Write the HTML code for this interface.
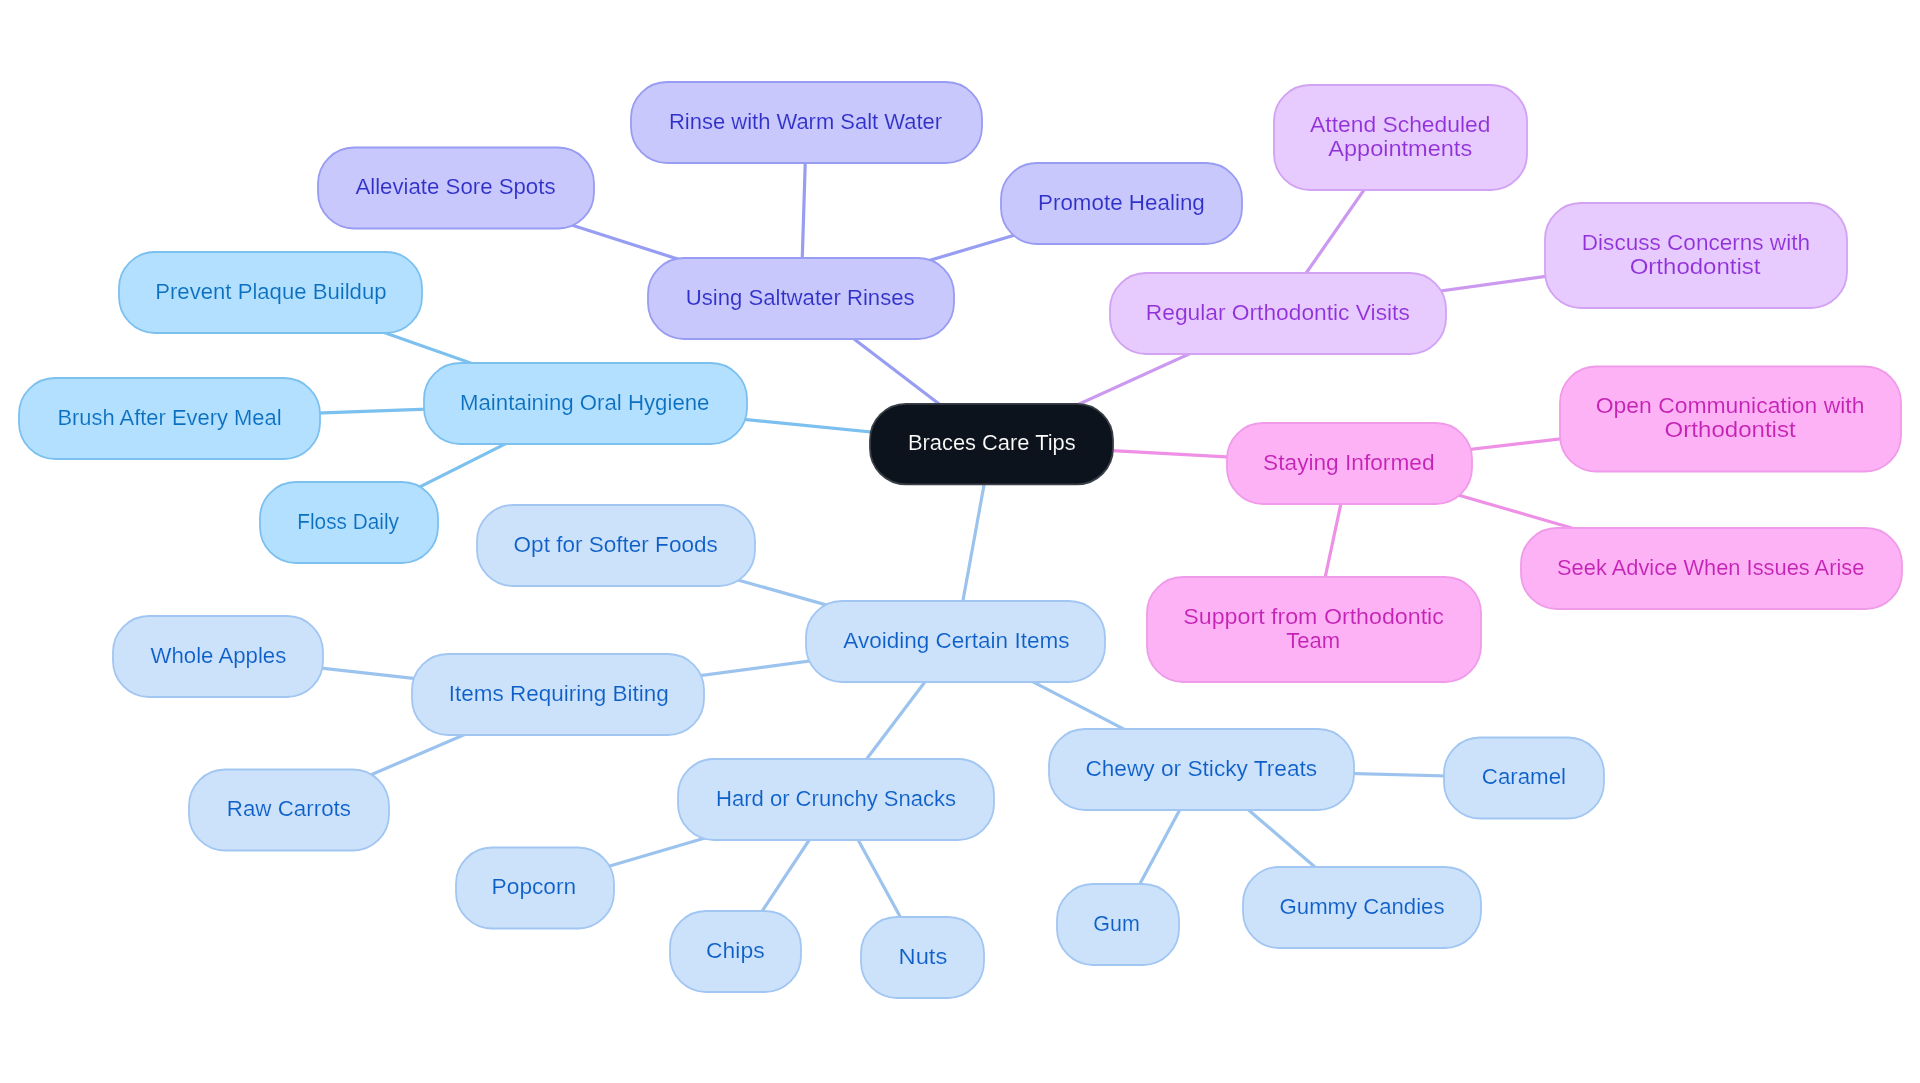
<!DOCTYPE html><html><head><meta charset="utf-8"><style>html,body{margin:0;padding:0;background:#fff;width:1920px;height:1083px;overflow:hidden}svg{display:block;will-change:transform}text{font-family:"Liberation Sans",sans-serif;font-size:22.50px}</style></head><body>
<svg width="1920" height="1083" viewBox="0 0 1920 1083">
<line x1="801.0" y1="298.5" x2="991.5" y2="444.0" stroke="#979DF2" stroke-width="3.2"/>
<line x1="806.5" y1="122.5" x2="801.0" y2="298.5" stroke="#979DF2" stroke-width="3.2"/>
<line x1="456.0" y1="188.0" x2="801.0" y2="298.5" stroke="#979DF2" stroke-width="3.2"/>
<line x1="1121.5" y1="203.5" x2="801.0" y2="298.5" stroke="#979DF2" stroke-width="3.2"/>
<line x1="585.5" y1="403.5" x2="991.5" y2="444.0" stroke="#7CC0F0" stroke-width="3.2"/>
<line x1="270.5" y1="292.5" x2="585.5" y2="403.5" stroke="#7CC0F0" stroke-width="3.2"/>
<line x1="169.5" y1="418.5" x2="585.5" y2="403.5" stroke="#7CC0F0" stroke-width="3.2"/>
<line x1="349.0" y1="522.5" x2="585.5" y2="403.5" stroke="#7CC0F0" stroke-width="3.2"/>
<line x1="1278.0" y1="313.5" x2="991.5" y2="444.0" stroke="#CC99F0" stroke-width="3.2"/>
<line x1="1400.5" y1="137.5" x2="1278.0" y2="313.5" stroke="#CC99F0" stroke-width="3.2"/>
<line x1="1696.0" y1="255.5" x2="1278.0" y2="313.5" stroke="#CC99F0" stroke-width="3.2"/>
<line x1="1349.5" y1="463.5" x2="991.5" y2="444.0" stroke="#EE90E6" stroke-width="3.2"/>
<line x1="1730.5" y1="419.0" x2="1349.5" y2="463.5" stroke="#EE90E6" stroke-width="3.2"/>
<line x1="1711.5" y1="568.5" x2="1349.5" y2="463.5" stroke="#EE90E6" stroke-width="3.2"/>
<line x1="1314.0" y1="629.5" x2="1349.5" y2="463.5" stroke="#EE90E6" stroke-width="3.2"/>
<line x1="955.5" y1="641.5" x2="991.5" y2="444.0" stroke="#9BC3EE" stroke-width="3.2"/>
<line x1="616.0" y1="545.5" x2="955.5" y2="641.5" stroke="#9BC3EE" stroke-width="3.2"/>
<line x1="558.0" y1="694.5" x2="955.5" y2="641.5" stroke="#9BC3EE" stroke-width="3.2"/>
<line x1="218.0" y1="656.5" x2="558.0" y2="694.5" stroke="#9BC3EE" stroke-width="3.2"/>
<line x1="289.0" y1="810.0" x2="558.0" y2="694.5" stroke="#9BC3EE" stroke-width="3.2"/>
<line x1="836.0" y1="799.5" x2="955.5" y2="641.5" stroke="#9BC3EE" stroke-width="3.2"/>
<line x1="535.0" y1="888.0" x2="836.0" y2="799.5" stroke="#9BC3EE" stroke-width="3.2"/>
<line x1="735.5" y1="951.5" x2="836.0" y2="799.5" stroke="#9BC3EE" stroke-width="3.2"/>
<line x1="922.5" y1="957.5" x2="836.0" y2="799.5" stroke="#9BC3EE" stroke-width="3.2"/>
<line x1="1201.5" y1="769.5" x2="955.5" y2="641.5" stroke="#9BC3EE" stroke-width="3.2"/>
<line x1="1524.0" y1="778.0" x2="1201.5" y2="769.5" stroke="#9BC3EE" stroke-width="3.2"/>
<line x1="1118.0" y1="924.5" x2="1201.5" y2="769.5" stroke="#9BC3EE" stroke-width="3.2"/>
<line x1="1362.0" y1="907.5" x2="1201.5" y2="769.5" stroke="#9BC3EE" stroke-width="3.2"/>
<rect x="870.0" y="403.8" width="243.0" height="80.5" rx="36.0" fill="#0D131C" stroke="#3A3F47" stroke-width="1.80"/>
<text x="908.00" y="450.00" fill="#FFFFFF" stroke="#0D131C" stroke-width="0.15" textLength="167.61" lengthAdjust="spacingAndGlyphs">Braces Care Tips</text>
<rect x="648.0" y="258.0" width="306.0" height="81.0" rx="36.0" fill="#C8C8FD" stroke="#989CF2" stroke-width="1.80"/>
<text x="685.70" y="304.50" fill="#3030C8" stroke="#C8C8FD" stroke-width="0.15" textLength="228.92" lengthAdjust="spacingAndGlyphs">Using Saltwater Rinses</text>
<rect x="631.0" y="82.0" width="351.0" height="81.0" rx="36.0" fill="#C8C8FD" stroke="#989CF2" stroke-width="1.80"/>
<text x="669.00" y="128.50" fill="#3030C8" stroke="#C8C8FD" stroke-width="0.15" textLength="273.08" lengthAdjust="spacingAndGlyphs">Rinse with Warm Salt Water</text>
<rect x="318.0" y="147.5" width="276.0" height="81.0" rx="36.0" fill="#C8C8FD" stroke="#989CF2" stroke-width="1.80"/>
<text x="355.40" y="194.00" fill="#3030C8" stroke="#C8C8FD" stroke-width="0.15" textLength="200.11" lengthAdjust="spacingAndGlyphs">Alleviate Sore Spots</text>
<rect x="1001.0" y="163.0" width="241.0" height="81.0" rx="36.0" fill="#C8C8FD" stroke="#989CF2" stroke-width="1.80"/>
<text x="1038.00" y="209.50" fill="#3030C8" stroke="#C8C8FD" stroke-width="0.15" textLength="166.81" lengthAdjust="spacingAndGlyphs">Promote Healing</text>
<rect x="424.0" y="363.0" width="323.0" height="81.0" rx="36.0" fill="#B3E0FE" stroke="#7CC0F0" stroke-width="1.80"/>
<text x="460.00" y="409.50" fill="#0B6FC0" stroke="#B3E0FE" stroke-width="0.15" textLength="249.48" lengthAdjust="spacingAndGlyphs">Maintaining Oral Hygiene</text>
<rect x="119.0" y="252.0" width="303.0" height="81.0" rx="36.0" fill="#B3E0FE" stroke="#7CC0F0" stroke-width="1.80"/>
<text x="155.20" y="298.50" fill="#0B6FC0" stroke="#B3E0FE" stroke-width="0.15" textLength="231.37" lengthAdjust="spacingAndGlyphs">Prevent Plaque Buildup</text>
<rect x="19.0" y="378.0" width="301.0" height="81.0" rx="36.0" fill="#B3E0FE" stroke="#7CC0F0" stroke-width="1.80"/>
<text x="57.40" y="424.50" fill="#0B6FC0" stroke="#B3E0FE" stroke-width="0.15" textLength="224.21" lengthAdjust="spacingAndGlyphs">Brush After Every Meal</text>
<rect x="260.0" y="482.0" width="178.0" height="81.0" rx="36.0" fill="#B3E0FE" stroke="#7CC0F0" stroke-width="1.80"/>
<text x="297.30" y="528.50" fill="#0B6FC0" stroke="#B3E0FE" stroke-width="0.15" textLength="101.61" lengthAdjust="spacingAndGlyphs">Floss Daily</text>
<rect x="1110.0" y="273.0" width="336.0" height="81.0" rx="36.0" fill="#E7CAFE" stroke="#D2A2F3" stroke-width="1.80"/>
<text x="1145.80" y="319.50" fill="#9030D8" stroke="#E7CAFE" stroke-width="0.15" textLength="263.98" lengthAdjust="spacingAndGlyphs">Regular Orthodontic Visits</text>
<rect x="1274.0" y="85.0" width="253.0" height="105.0" rx="36.0" fill="#E7CAFE" stroke="#D2A2F3" stroke-width="1.80"/>
<text x="1310.10" y="131.50" fill="#9030D8" stroke="#E7CAFE" stroke-width="0.15" textLength="180.34" lengthAdjust="spacingAndGlyphs">Attend Scheduled</text>
<text x="1328.30" y="155.50" fill="#9030D8" stroke="#E7CAFE" stroke-width="0.15" textLength="143.88" lengthAdjust="spacingAndGlyphs">Appointments</text>
<rect x="1545.0" y="203.0" width="302.0" height="105.0" rx="36.0" fill="#E7CAFE" stroke="#D2A2F3" stroke-width="1.80"/>
<text x="1581.80" y="249.50" fill="#9030D8" stroke="#E7CAFE" stroke-width="0.15" textLength="228.19" lengthAdjust="spacingAndGlyphs">Discuss Concerns with</text>
<text x="1629.70" y="273.50" fill="#9030D8" stroke="#E7CAFE" stroke-width="0.15" textLength="130.85" lengthAdjust="spacingAndGlyphs">Orthodontist</text>
<rect x="1227.0" y="423.0" width="245.0" height="81.0" rx="36.0" fill="#FDB2F5" stroke="#F09BE9" stroke-width="1.80"/>
<text x="1263.10" y="469.50" fill="#C422B4" stroke="#FDB2F5" stroke-width="0.15" textLength="171.41" lengthAdjust="spacingAndGlyphs">Staying Informed</text>
<rect x="1560.0" y="366.5" width="341.0" height="105.0" rx="36.0" fill="#FDB2F5" stroke="#F09BE9" stroke-width="1.80"/>
<text x="1595.80" y="413.00" fill="#C422B4" stroke="#FDB2F5" stroke-width="0.15" textLength="268.60" lengthAdjust="spacingAndGlyphs">Open Communication with</text>
<text x="1664.60" y="437.00" fill="#C422B4" stroke="#FDB2F5" stroke-width="0.15" textLength="131.05" lengthAdjust="spacingAndGlyphs">Orthodontist</text>
<rect x="1521.0" y="528.0" width="381.0" height="81.0" rx="36.0" fill="#FDB2F5" stroke="#F09BE9" stroke-width="1.80"/>
<text x="1557.00" y="574.50" fill="#C422B4" stroke="#FDB2F5" stroke-width="0.15" textLength="307.41" lengthAdjust="spacingAndGlyphs">Seek Advice When Issues Arise</text>
<rect x="1147.0" y="577.0" width="334.0" height="105.0" rx="36.0" fill="#FDB2F5" stroke="#F09BE9" stroke-width="1.80"/>
<text x="1183.30" y="623.50" fill="#C422B4" stroke="#FDB2F5" stroke-width="0.15" textLength="260.55" lengthAdjust="spacingAndGlyphs">Support from Orthodontic</text>
<text x="1286.20" y="647.50" fill="#C422B4" stroke="#FDB2F5" stroke-width="0.15" textLength="53.83" lengthAdjust="spacingAndGlyphs">Team</text>
<rect x="806.0" y="601.0" width="299.0" height="81.0" rx="36.0" fill="#CCE2FB" stroke="#A2C6F2" stroke-width="1.80"/>
<text x="843.30" y="647.50" fill="#0D5FC7" stroke="#CCE2FB" stroke-width="0.15" textLength="226.17" lengthAdjust="spacingAndGlyphs">Avoiding Certain Items</text>
<rect x="477.0" y="505.0" width="278.0" height="81.0" rx="36.0" fill="#CCE2FB" stroke="#A2C6F2" stroke-width="1.80"/>
<text x="513.60" y="551.50" fill="#0D5FC7" stroke="#CCE2FB" stroke-width="0.15" textLength="204.16" lengthAdjust="spacingAndGlyphs">Opt for Softer Foods</text>
<rect x="412.0" y="654.0" width="292.0" height="81.0" rx="36.0" fill="#CCE2FB" stroke="#A2C6F2" stroke-width="1.80"/>
<text x="448.80" y="700.50" fill="#0D5FC7" stroke="#CCE2FB" stroke-width="0.15" textLength="219.92" lengthAdjust="spacingAndGlyphs">Items Requiring Biting</text>
<rect x="113.0" y="616.0" width="210.0" height="81.0" rx="36.0" fill="#CCE2FB" stroke="#A2C6F2" stroke-width="1.80"/>
<text x="150.50" y="662.50" fill="#0D5FC7" stroke="#CCE2FB" stroke-width="0.15" textLength="135.80" lengthAdjust="spacingAndGlyphs">Whole Apples</text>
<rect x="189.0" y="769.5" width="200.0" height="81.0" rx="36.0" fill="#CCE2FB" stroke="#A2C6F2" stroke-width="1.80"/>
<text x="226.80" y="816.00" fill="#0D5FC7" stroke="#CCE2FB" stroke-width="0.15" textLength="124.15" lengthAdjust="spacingAndGlyphs">Raw Carrots</text>
<rect x="678.0" y="759.0" width="316.0" height="81.0" rx="36.0" fill="#CCE2FB" stroke="#A2C6F2" stroke-width="1.80"/>
<text x="716.00" y="805.50" fill="#0D5FC7" stroke="#CCE2FB" stroke-width="0.15" textLength="240.12" lengthAdjust="spacingAndGlyphs">Hard or Crunchy Snacks</text>
<rect x="456.0" y="847.5" width="158.0" height="81.0" rx="36.0" fill="#CCE2FB" stroke="#A2C6F2" stroke-width="1.80"/>
<text x="491.60" y="894.00" fill="#0D5FC7" stroke="#CCE2FB" stroke-width="0.15" textLength="84.61" lengthAdjust="spacingAndGlyphs">Popcorn</text>
<rect x="670.0" y="911.0" width="131.0" height="81.0" rx="36.0" fill="#CCE2FB" stroke="#A2C6F2" stroke-width="1.80"/>
<text x="706.10" y="957.50" fill="#0D5FC7" stroke="#CCE2FB" stroke-width="0.15" textLength="58.52" lengthAdjust="spacingAndGlyphs">Chips</text>
<rect x="861.0" y="917.0" width="123.0" height="81.0" rx="36.0" fill="#CCE2FB" stroke="#A2C6F2" stroke-width="1.80"/>
<text x="898.50" y="963.50" fill="#0D5FC7" stroke="#CCE2FB" stroke-width="0.15" textLength="48.78" lengthAdjust="spacingAndGlyphs">Nuts</text>
<rect x="1049.0" y="729.0" width="305.0" height="81.0" rx="36.0" fill="#CCE2FB" stroke="#A2C6F2" stroke-width="1.80"/>
<text x="1085.40" y="775.50" fill="#0D5FC7" stroke="#CCE2FB" stroke-width="0.15" textLength="231.79" lengthAdjust="spacingAndGlyphs">Chewy or Sticky Treats</text>
<rect x="1444.0" y="737.5" width="160.0" height="81.0" rx="36.0" fill="#CCE2FB" stroke="#A2C6F2" stroke-width="1.80"/>
<text x="1481.80" y="784.00" fill="#0D5FC7" stroke="#CCE2FB" stroke-width="0.15" textLength="84.25" lengthAdjust="spacingAndGlyphs">Caramel</text>
<rect x="1057.0" y="884.0" width="122.0" height="81.0" rx="36.0" fill="#CCE2FB" stroke="#A2C6F2" stroke-width="1.80"/>
<text x="1093.30" y="930.50" fill="#0D5FC7" stroke="#CCE2FB" stroke-width="0.15" textLength="46.48" lengthAdjust="spacingAndGlyphs">Gum</text>
<rect x="1243.0" y="867.0" width="238.0" height="81.0" rx="36.0" fill="#CCE2FB" stroke="#A2C6F2" stroke-width="1.80"/>
<text x="1279.60" y="913.50" fill="#0D5FC7" stroke="#CCE2FB" stroke-width="0.15" textLength="164.88" lengthAdjust="spacingAndGlyphs">Gummy Candies</text>
</svg></body></html>
